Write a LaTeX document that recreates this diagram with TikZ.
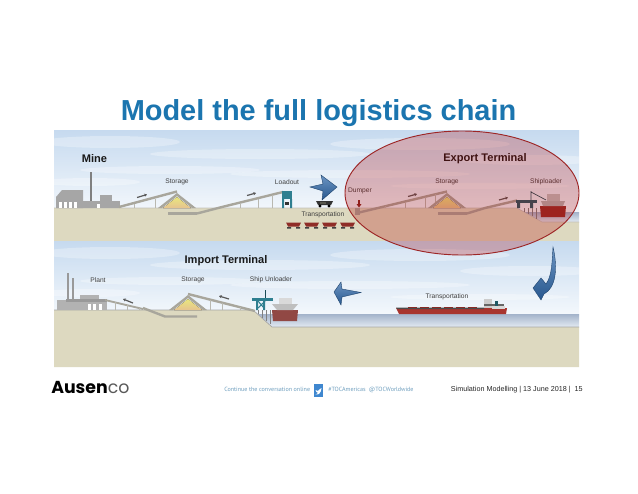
\documentclass[tikz,border=0pt]{standalone}
\usepackage{fontspec}
\setmainfont{Liberation Sans}
\newfontfamily\logofont{Poppins}
\newfontfamily\condfont{PT Sans}
\usetikzlibrary{shadings,arrows.meta}
\definecolor{sandc}{HTML}{DDD9C0}
\definecolor{skytop}{HTML}{C6DAEF}
\definecolor{skylow}{HTML}{F4F8FC}
\definecolor{steelc}{HTML}{A8A69C}
\definecolor{tealc}{HTML}{2F7F90}
\definecolor{hullc}{HTML}{A8352F}
\definecolor{arrowc}{HTML}{2E67A8}
\definecolor{titlec}{HTML}{1B75AF}
\definecolor{tweetc}{HTML}{6F9FBF}
\definecolor{watertop}{HTML}{A3B3CA}
\definecolor{waterlow}{HTML}{E3EAF2}
\tikzset{
  lab/.style={font=\fontsize{5}{6}\selectfont,text=black!75,inner sep=0pt},
  head/.style={font=\bfseries\fontsize{8.3}{10}\selectfont,text=black!90,inner sep=0pt},
  belt/.style={draw=steelc,line width=1.8pt,line cap=butt},
  post/.style={draw=steelc!80,line width=.4pt},
  flowtip/.style={draw=black!65,line width=.9pt,-{Stealth[length=2pt,width=2.4pt]}},
  cloud/.style={fill=white,opacity=.3},
  bluearrow/.style={top color=arrowc!70!white,bottom color=arrowc!85!black,draw=arrowc!65!black,line width=.3pt}
}
\newcommand{\orepile}[2]{% apex x, ground y
  \fill[steelc] (#1-19,#2) -- (#1,#2-15) -- (#1+19,#2) -- (#1+15,#2) -- (#1,#2-12) -- (#1-15,#2) -- cycle;
  \fill[top color=yellow!35!sandc,bottom color=orange!25!sandc] (#1-14,#2) -- (#1,#2-11) -- (#1+14,#2) -- cycle;
}
\newcommand{\skyband}[2]{% top y, bottom y
  \shade[top color=skytop,bottom color=skylow] (54,#1) rectangle (579,#2);
  \begin{scope}
    \clip (54,#1) rectangle (579,#2);
    \foreach \cx/\cy/\rx/\ry in {110/12/70/6,260/24/110/5,420/14/90/6,530/30/70/5,170/40/90/4,350/44/120/4,90/52/50/4,480/56/90/3}
      {\fill[cloud] (\cx,#1+\cy) ellipse ({\rx} and {\ry});}
  \end{scope}
}
\newcommand{\wagon}[1]{%
  \fill[hullc!85!black] (#1,222.5) -- (#1+15,222.5) -- (#1+13,226.5) -- (#1+2,226.5) -- cycle;
  \fill[black!75] (#1+1,227) rectangle (#1+5,228.5) (#1+10,227) rectangle (#1+14,228.5);
}
\begin{document}
\begin{tikzpicture}[x=.75pt,y=-.75pt]
\useasboundingbox (0,0) rectangle (638,493);
\fill[white] (0,0) rectangle (638,493);

% top panel
\skyband{130}{213}
\shade[top color=watertop,bottom color=waterlow] (517,212) rectangle (579,222);
\fill[sandc] (54,208) -- (517,208) -- (542,222) -- (579,222) -- (579,241) -- (54,241) -- cycle;
\draw[steelc!70,line width=.4pt] (54,208) -- (517,208) -- (542,222) -- (579,222);

% mine plant
\fill[black!35] (56,197) -- (62,190) -- (83,190) -- (83,208) -- (56,208) -- cycle;
\fill[black!50] (89.5,172) rectangle (92,208);
\fill[black!35] (83,201) rectangle (120,208);
\fill[black!35] (100,195) rectangle (112,208);
\foreach \wx in {59,64,69,74}{\fill[white] (\wx,202) rectangle (\wx+3,208);}
\fill[white] (97,204) rectangle (100,208);
\draw[belt] (119,207) -- (177,191.5);
\orepile{177}{208}
\fill[steelc] (168,212) rectangle (197,215);
\draw[belt] (197,213.5) -- (222,207) -- (283,192);
\foreach \px in {134,155,222,240,258,272}{\draw[post] (\px,208) -- (\px,{208-(\px<200?(\px-119)*.26:(\px-222)*.26)});}
\draw[flowtip] (137,197.5) -- (147,194.5);
\draw[flowtip] (247,195.5) -- (256,193);
% loadout
\fill[tealc] (282,191) rectangle (292,199);
\fill[tealc] (282,199) rectangle (284,208) (290,199) rectangle (292,208);
\fill[black!80] (285,202) rectangle (289,205);

% truck
\fill[black!80] (316,201) -- (333,201) -- (331,205) -- (318,205) -- cycle;
\fill[sandc!40!black] (320,202) rectangle (326,204);
\fill[black] (320,206) circle (1.6) (329,206) circle (1.6);
% train
\foreach \wx in {286,304,322,340}{\wagon{\wx}}

% dumper
\draw[belt] (357,213) -- (447,191.5);
\fill[steelc] (355,208) rectangle (360,215);
\fill[hullc!80!black] (358,200) rectangle (360,205);
\fill[hullc!80!black] (356.5,204) -- (361.5,204) -- (359,207.5) -- cycle;
\foreach \px in {385,405,425,435}{\draw[post] (\px,208) -- (\px,{213-(\px-357)*.239});}
\draw[flowtip] (408,196.5) -- (417,194);
\orepile{447}{208}
\fill[steelc] (438,212) rectangle (467,215);
\draw[belt] (467,213.5) -- (485,208) -- (517,200.5);
\draw[flowtip] (499,200) -- (508,197.5);
% shiploader
\draw[tealc!60!black,line width=.5pt] (531,191) -- (531,201) (531,192) -- (546,200);
\fill[tealc!70!black] (516,200) rectangle (537,203);
\fill[tealc!70!black] (517,203) rectangle (520,208) (530,203) rectangle (533,208);
\foreach \px in {524,528,532,536}{\draw[black!50,line width=.3pt] (\px,208) -- (\px,{208+(\px-517)*.56});}
% ship export
\fill[hullc!90!black] (540,206) -- (566,206) -- (565,217) -- (541,217) -- cycle;
\fill[black!30] (541,201) -- (565,201) -- (563,206) -- (543,206) -- cycle;
\fill[black!25] (547,194) rectangle (560,201);

% bottom panel
\skyband{241}{315}
\shade[top color=watertop,bottom color=waterlow] (258,314) rectangle (579,327);
\fill[sandc] (54,310) -- (253,310) -- (272,327) -- (579,327) -- (579,367) -- (54,367) -- cycle;
\draw[black!35,line width=.5pt] (54,310) -- (253,310) -- (272,327) -- (579,327);

% plant
\fill[black!40] (67,273) rectangle (69,310);
\fill[black!40] (72,278) rectangle (73.5,310);
\fill[black!30] (57,300) rectangle (107,310);
\fill[black!30] (80,295) rectangle (99,300);
\fill[black!40] (66,299) rectangle (107,302);
\foreach \wx in {88,93,99}{\fill[white] (\wx,304) rectangle (\wx+3,310);}
\draw[belt,line width=1.4pt] (105,300) -- (143,309);
\draw[belt] (143,308) -- (165,316.5) -- (197,316.5);
\foreach \px in {115,127,139}{\draw[post] (\px,310) -- (\px,{300+(\px-105)*.24});}
\draw[flowtip] (133,303) -- (123,299);
\orepile{188}{310}
\draw[belt] (188,294) -- (255,311);
\foreach \px in {210,222,240}{\draw[post] (\px,310) -- (\px,{294+(\px-188)*.254});}
\draw[flowtip] (229,299) -- (219,296);
% ship unloader
\fill[tealc] (252,298) rectangle (273,301);
\fill[tealc] (256,301) rectangle (258,310) (263,301) rectangle (265,310);
\draw[tealc,line width=.8pt] (258,301) -- (264,308) (265,301) -- (258,308);
\draw[tealc!60!black,line width=.6pt] (265,290) -- (265,298);
\foreach \px in {258,262,266,270}{\draw[black!50,line width=.3pt] (\px,310) -- (\px,{310+(\px-253)*.85});}
% ship import
\fill[hullc!75!black!85!white] (272,310) -- (298,310) -- (297,321) -- (273,321) -- cycle;
\fill[black!25] (272,304) -- (298,304) -- (293,310) -- (277,310) -- cycle;
\fill[black!15] (279,298) rectangle (292,304);

% long ship
\fill[hullc] (396,308) -- (507,308) -- (506,314) -- (399,314) -- cycle;
\fill[black!70] (396,307.5) -- (484,307.5) -- (484,309) -- (397,309) -- cycle;
\foreach \hx in {408,420,432,444,456,468}{\fill[hullc!80!black] (\hx,307) rectangle (\hx+9,308);}
\fill[black!20] (484,299) rectangle (492,308);
\fill[black!60] (484,304) rectangle (504,306);
\fill[tealc!70!black] (495,301) rectangle (498,306);
\fill[white!85!black] (492,306) rectangle (505,308.5);

% blue arrows
\path[bluearrow] (310,187) -- (323,184) -- (321,175) -- (337,187) -- (322,200) -- (323,191) -- cycle;
\path[bluearrow] (334,292) -- (341,282) -- (342,289) -- (361,292.5) -- (342,297) -- (341,305) -- cycle;
\path[bluearrow] (553,247) .. controls (552,262) and (552,276) .. (546,284) -- (541,278) -- (533,288) -- (541,300) -- (544,294) .. controls (556,288) and (558,268) .. (553,247) -- cycle;

% labels
\node[head] (mine) at (94.5,159) {Mine};
\node[lab] (sto1) at (177,182) {Storage};
\node[lab] (load) at (287,182) {Loadout};
\node[lab] (tr1) at (323,215) {Transportation};
\node[lab] (dump) at (360,191) {Dumper};
\node[lab] (sto2) at (447,182) {Storage};
\node[lab] (shipl) at (546,182) {Shiploader};
\node[head] (export) at (485,159) {Export Terminal};
\node[head] (import) at (226,261) {Import Terminal};
\node[lab] (plant) at (98,280) {Plant};
\node[lab] (sto3) at (193,280) {Storage};
\node[lab] (unl) at (271,280) {Ship Unloader};
\node[lab] (tr2) at (447,297) {Transportation};

% highlight ellipse
\path[fill=red!70!black,fill opacity=.25,draw=red!55!black!85!white,line width=.7pt] (462,193) ellipse (117 and 62);

% title
\node[font=\bfseries\fontsize{21.7}{26}\selectfont,text=titlec,inner sep=0pt] (title) at (318.5,113) {Model the full logistics chain};

% footer
\node[font=\logofont\fontsize{13}{16}\selectfont,inner sep=0pt,anchor=west] (logo) at (51,387.5) {\textbf{Ausen}\textcolor{black!65}{co}};
\node[font=\condfont\fontsize{4.55}{6}\selectfont,text=tweetc,inner sep=0pt,anchor=west] (cont) at (224,389.5) {Continue the conversation online};
\fill[cyan!55!blue!80!white] (314,384) rectangle (323,397);
\fill[white] (315.5,390) .. controls (317,392) and (319,391) .. (320,389) -- (321.5,388) .. controls (321,393) and (319,395) .. (315.5,394.5) .. controls (317,394) and (317.5,393.5) .. (318,393) .. controls (316.5,392.5) and (316,391.5) .. (315.5,390) -- cycle;
\node[font=\condfont\fontsize{4.55}{6}\selectfont,text=tweetc,inner sep=0pt,anchor=west] (tags) at (328,390) {\#TOCAmericas\ \ @TOCWorldwide};
\node[font=\fontsize{5.4}{7}\selectfont,text=black!85,inner sep=0pt,anchor=east] (foot) at (583,390) {Simulation Modelling | 13 June 2018 |\ \ 15};
\end{tikzpicture}
\end{document}
